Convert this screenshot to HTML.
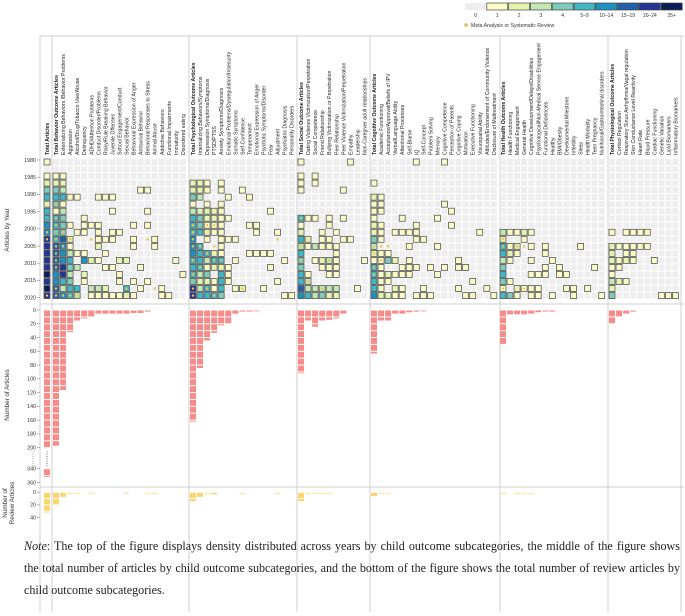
<!DOCTYPE html>
<html><head><meta charset="utf-8"><style>
body{margin:0;background:#fff;width:685px;height:616px;overflow:hidden;position:relative;font-family:"Liberation Sans",sans-serif}
svg{position:absolute;left:0;top:0}
#note{position:absolute;left:24px;top:535px;width:656px;font-family:"Liberation Serif",serif;font-size:12.1px;line-height:22px;color:#222}
#note .j{display:block;text-align:justify;text-align-last:justify;white-space:nowrap}
#note .l{display:block;white-space:nowrap}
</style></head><body>
<svg id="chart" width="685" height="616" xmlns="http://www.w3.org/2000/svg" font-family="Liberation Sans, sans-serif"></svg>
<div id="note"><span class="j"><i>Note</i>: The top of the figure displays density distributed across years by child outcome subcategories, the middle of the figure shows</span><span class="j">the total number of articles by child outcome subcategories, and the bottom of the figure shows the total number of review articles by</span><span class="l">child outcome subcategories.</span></div>
<script>
// ---- data ----
const labels = ["Total Articles",
"Total Behavior Outcome Articles","Externalizing Behaviors /Behavior Problems","Aggression","Alcohol/Drug/Tobacco Use/Abuse","Delinquency","ADHD/Attention Problems","Conduct Disorder/Problems","Risky/Rule Breaking Behavior","Juvenile Offenses","School Engagement/Conduct","Sexual Behavior","Behavioral Expression of Anger","Antisocial Behavior","Behavioral Responses to Stress","Animal Abuse","Addictive Behaviors","Functional Impairments","Immaturity","Disordered eating",
"Total Psychological Outcome Articles","Internalizing Behaviors/Symptoms","Depression Symptoms/Diagnosis","PTSD/PTSS","Anxiety Symptoms/Diagnosis","Emotional Problems/Dysregulation/Insecurity","Somatic Symptoms","Self-Confidence","Temperament","Emotional Expression of Anger","Psychotic Symptoms/Disorder","Fear","Adjustment","Psychiatric Diagnosis","Personality Disorders",
"Total Social Outcome Articles","Dating Violence Victimization/Perpetration","Social Competence","Friend Relationship","Bullying Victimization or Perpetration","Peer Relationship","Peer Violence Victimization/Perpetration","Empathy","Leadership","Non-Caregiver adult relationships",
"Total Cognitive Outcome Articles","Academic Functioning","Acceptance/Approval/Beliefs of IPV","Verbal/Language Ability","Attentional Processes","Self-Blame","IQ","Self-Concept","Problem Solving","Memory","Cognitive Competence","Perception of Parents","Cognitive Coping","Motivation","Executive Functioning","Visuospatial Ability","Attitudes/Endorsement of Community Violence","Disclosure of Maltreatment",
"Total Health Outcome Articles","Health Functioning","Medical Engagement","General Health","Cognitive Development/Delays/Disabilities","Psychological/Non-Medical Service Engagement","Functional Deficiencies","Healthy","BMI/Obesity","Developmental Milestone","Infertility","Sleep","Health Mortality","Teen Pregnancy","Nutritional/Gastrointestinal disorders",
"Total Physiological Outcome Articles","Cortisol Regulation","Respiratory Sinus Arrhythmia/Vagal regulation","Skin Conductance Level Reactivity","Heart Rate","Blood Pressure","Cardiac Functioning","Genetic Variation","Lipid Biomarkers","Inflammatory Biomarkers"];
const groupSizes = [1,19,15,10,18,15,10];
const density = [
"1.12452556fh8888989h",
"..1245d1ee4egggg66gg",
"..12351344d7f668853fh",
".....1...1.b1354345e",
".....1....1..1.3..5c",
"........111..16.21..1",
".........1.*..2...31",
".....1...1112.1...31",
".....1.....1.1.1..21",
".....1.1..11...1...1",
"..........1...2.11.1",
"..............2...e2",
".........1.11....1.1",
"....1..........1..1.",
"....1..1.1.*.....1..",
"...........11.....*.",
"..................11",
"...................1",
"..............1.....",
"................1...",
"...224135eeff6e5e4hh",
"...223.24450e55e3235e",
"...11.122a21.e3142e5",
".......22a1.*2e2.11ee",
"...11.11111111e25554e",
".....1..1..10..111..",
"...........1..1...1.",
"....1.............b.",
".....1...1...1......",
".........11..1......",
".............1....1.",
".......1.....1.1....",
"..........1*.....1..",
"..............1....1",
"...................1",
"1.111...e125c5d45576",
"........1..21...1c35",
"..11....1...3.1...33",
"..........111.21..c4",
"........11.11.c11.32",
"..........1.11111.32",
"....1...1..1........",
"1..........1........",
"..................1.",
"..............1.....",
"...1.2111224cb1ee556e",
".....111.111*1a111122",
"............*14.21.2c",
"..........1...2.1.21",
"........1.1....11.11",
"..........1.1.111...",
"1........111...1...1",
"...........1......11",
"...............1...1",
"........1...1...1...",
"1.....1........1....",
".......1.1..........",
"..............11..1.",
"...............1...1",
".................1.1",
"..........1.........",
"..................1.",
"...................1",
"..........3be53454a5",
"..........1.121..1.4",
"..........1.b1....21",
"..........21*.....a.",
"..........1.1.1.1.11",
"................1.11",
"............11.11...",
"..............1....1",
"...............11...",
"................1.1.",
"..................11",
"............1.......",
"..................1.",
"...............1....",
"...................1",
"..........1.22211324",
"............1.11.2..",
"..........1.112..1..",
"..........1.111.....",
"..........1.1.......",
"..........1.1.......",
"..............1.....",
"...................1",
"...................1",
"...................1"];
const articleCounts = [352,
198,117,33,16,13,10,6,6,6,6,6,5,5,3,1,1,1,1,1,
163,85,45,34,23,21,6,3,3,2,1,1,1,1,1,
92,16,25,16,15,13,6,1,1,1,
64,16,16,6,6,4,3,2,1,1,1,1,1,1,1,1,1,1,
50,7,7,7,6,4,3,3,1,1,1,1,1,1,1,
21,11,6,3,1,1,1,1,1,1];
const reviewCounts = [32,
20,8,1,1,0,1,0,0,0,0,1,0,0,1,1,0,0,0,0,
15,8,1,4,0,0,0,1,0,0,0,0,1,0,0,
15,1,1,1,1,0,0,0,0,0,
7,1,2,0,0,0,0,0,0,0,0,0,0,0,0,0,0,0,
3,0,1,1,1,0,0,0,0,0,0,0,0,0,0,
0,0,0,0,0,0,0,0,0,0];
const yearTicks = [1980,1985,1990,1995,2000,2005,2010,2015,2020];
const countTicks = [0,20,40,60,80,100,120,140,160,180,200];
const brokenTicks = [340,360];
const reviewTicks = [0,20,40];
const legendLabels = ["0","1","2","3","4","5–9","10–14","15–19","20–24","25+"];
const levelColors = ["#eeeeee","#fbfbc8","#e4f3b0","#c2e6b4","#7ecbba","#42b6c4","#1f91c0","#2460a8","#253494","#0b1d58"];

const svg=document.getElementById('chart');const NS="http://www.w3.org/2000/svg";
function mk(tag,attrs,parent){const e=document.createElementNS(NS,tag);for(const k in attrs)e.setAttribute(k,attrs[k]);(parent||svg).appendChild(e);return e;}
const groupStarts=[47,56,193,301,374,503,612];const colX=[];
groupSizes.forEach((n,g)=>{for(let i=0;i<n;i++)colX.push(groupStarts[g]+i*7.05);});
const rowY=k=>162+k*7.03;
const yearY=yr=>160+(yr-1980)*3.44;
const cntY=v=>v<=200?310+v*0.688:468.7+(v-340)*0.7;
const revY=v=>492.3+v*0.63;

[[40,36,684,36],[40,36,40,612],[52,36,52,612],[189,36,189,612],[297,36,297,612],[370,36,370,612],[500,36,500,612],[608,36,608,612],[681,36,681,612],[40,304,684,304],[40,487,684,487]].forEach(l=>{
const e=mk('line',{x1:l[0],y1:l[1],x2:l[2],y2:l[3],stroke:'#cfcfcf','stroke-width':1});

});

labels.forEach((t,i)=>{const x=colX[i]+2;
const e=mk('text',{x:0,y:0,transform:`translate(${x},155) rotate(-90)`,'font-size':5.2,fill:'#222','font-weight':t.startsWith('Total')?'bold':'normal'});e.textContent=t;

});

density.forEach((s,c)=>{for(let r=0;r<20;r++){const ch=s[r]||'.';let lvl=0,meta=false;
if(ch>='1'&&ch<='9')lvl=+ch;else if(ch>='a'&&ch<='i'){lvl=ch.charCodeAt(0)-96;meta=true;}else if(ch==='*')meta=true;
const x=colX[c]-3,y=rowY(r)-3;
const cell=mk('rect',{x:x,y:y,width:6,height:6,fill:levelColors[lvl],stroke:lvl?'#555':'none','stroke-width':lvl?0.8:0});


if(meta){const d=mk('circle',{cx:colX[c],cy:rowY(r),r:1.2,fill:'#f5c242'});

}}});

articleCounts.forEach((v,c)=>{for(let b=0;b<v;b+=10){const top=Math.min(b+10,v);
if(b>=200&&b<340){if(v>340){b=330;continue;}else break;}
const y0=cntY(b)+0.5,y1=cntY(top)-0.5;if(y1<=y0)continue;
const r=mk('rect',{x:colX[c]-3,y:y0,width:6,height:Math.max(0.8,y1-y0),fill:'#f88a88'});

}});
for(let k=0;k<7;k++){const d=mk('circle',{cx:colX[0],cy:452+k*2.3,r:0.5,fill:'#333'});

}

reviewCounts.forEach((v,c)=>{for(let b=0;b<v;b+=10){const top=Math.min(b+10,v);
const y0=revY(b)+0.5,y1=revY(top)-0.5;
const r=mk('rect',{x:colX[c]-3,y:y0,width:6,height:Math.max(0.8,y1-y0),fill:'#fcd66c'});

}});

function tick(y,label,name){const l=mk('line',{x1:37,y1:y,x2:40,y2:y,stroke:'#888','stroke-width':0.6});


const t=mk('text',{x:36,y:y+1.8,'font-size':5.3,'text-anchor':'end',fill:'#333'});t.textContent=label;

}
yearTicks.forEach(v=>tick(yearY(v),v,'year'));
countTicks.forEach(v=>tick(cntY(v),v,'count'));
brokenTicks.forEach(v=>tick(cntY(v),v,'count'));
reviewTicks.forEach(v=>tick(revY(v),v,'review'));
for(let k=0;k<7;k++){const d=mk('circle',{cx:33,cy:452+k*2.3,r:0.4,fill:'#333'});

}

[["Articles by Year",230,9,'year-axis-title'],["Number of Articles",395,9,'count-axis-title'],["Number of",503,7,'review-axis-title'],["Review Articles",503,14,'review-axis-title']].forEach(a=>{
const t=mk('text',{transform:`translate(${a[2]},${a[1]}) rotate(-90)`,'font-size':6.3,'text-anchor':'middle',fill:'#333'});t.textContent=a[0];

});

legendLabels.forEach((lab,i)=>{const x=465+i*21.8;
const r=mk('rect',{x:x,y:3,width:21,height:7,fill:levelColors[i],stroke:i?'#444':'none','stroke-width':0.7});


const t=mk('text',{x:x+10.5,y:17,'font-size':5,'text-anchor':'middle',fill:'#333'});t.textContent=lab;

});
const md=mk('circle',{cx:466,cy:25,r:1.6,fill:'#f5c242',stroke:'#999','stroke-width':0.3});


const mt=mk('text',{x:471,y:27,'font-size':5.2,fill:'#333'});mt.textContent="Meta Analysis or Systematic Review";


</script>
</body></html>
